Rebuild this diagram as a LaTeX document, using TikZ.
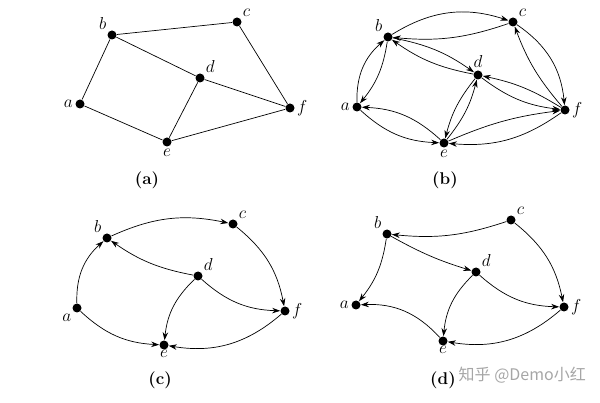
\documentclass[tikz,border=0pt]{standalone}
\usepackage{fontspec}
\newfontfamily\cjk{Noto Sans CJK SC}
\usetikzlibrary{arrows.meta}
\begin{document}
\begin{tikzpicture}[x=1pt,y=1pt,
  vtx/.style={circle,fill=black,inner sep=0pt,minimum size=9pt},
  lab/.style={font=\itshape\fontsize{17}{17}\selectfont,inner sep=2pt},
  captxt/.style={font=\bfseries\fontsize{17}{17}\selectfont},
  ar/.style={-{Stealth[length=8pt,width=5.5pt]}},
  every path/.style={line width=0.7pt}]
\useasboundingbox (0,0) rectangle (600,402);
% (a)
\node[vtx,label={[lab]above left:$b$}] (ab) at (112,367) {};
\node[vtx,label={[lab]above right:$c$}] (ac) at (237,380) {};
\node[vtx,label={[lab]above right:$d$}] (ad) at (200,324) {};
\node[vtx,label={[lab]left:$a$}] (aa) at (80,298) {};
\node[vtx,label={[lab]below:$e$}] (ae) at (167,260) {};
\node[vtx,label={[lab]right:$f$}] (af) at (290,294) {};
\draw (ab)--(ac) (ac)--(af) (ab)--(aa) (ab)--(ad) (ad)--(af) (ad)--(ae) (aa)--(ae) (ae)--(af);
\node[captxt] (capa) at (147,222) {(a)};
% (b)
\node[vtx,label={[lab]above left:$b$}] (bb) at (388,365) {};
\node[vtx,label={[lab]above right:$c$}] (bc) at (513,380) {};
\node[vtx,label={[lab]above:$d$}] (bd) at (478,327) {};
\node[vtx,label={[lab]left:$a$}] (ba) at (357,295) {};
\node[vtx,label={[lab]below:$e$}] (be) at (444,259) {};
\node[vtx,label={[lab]right:$f$}] (bf) at (565,292) {};
\draw[ar] (bb) to[bend left=25] (bc);
\draw[ar] (bc) to[bend left=12] (bb);
\draw[ar] (bb) to[bend left=12] (bd);
\draw[ar] (bd) to[bend left=12] (bb);
\draw[ar] (bb) to[bend left=15] (ba);
\draw[ar] (ba) to[bend left=25] (bb);
\draw[ar] (ba) to[bend right=20] (be);
\draw[ar] (be) to[bend right=20] (ba);
\draw[ar] (bd) to[bend right=12] (be);
\draw[ar] (be) to[bend right=12] (bd);
\draw[ar] (bd) to[bend right=15] (bf);
\draw[ar] (bf) to[bend right=10] (bd);
\draw[ar] (be) to[bend left=8] (bf);
\draw[ar] (bf) to[bend left=20] (be);
\draw[ar] (bc) to[bend left=25] (bf);
\draw[ar] (bf) to[bend left=10] (bc);
\node[captxt] (capb) at (445,222) {(b)};
% (c)
\node[vtx,label={[lab]above left:$b$}] (cb) at (107,164) {};
\node[vtx,label={[lab]above right:$c$}] (cc) at (233,178) {};
\node[vtx,label={[lab]above right:$d$}] (cd) at (198,126) {};
\node[vtx,label={[lab]below left:$a$}] (ca) at (77,94) {};
\node[vtx,label={[lab,inner sep=0pt]below:$e$}] (ce) at (164,57) {};
\node[vtx,label={[lab]right:$f$}] (cf) at (285,91) {};
\draw[ar] (ca) to[bend left=25] (cb);
\draw[ar] (cb) to[bend left=18] (cc);
\draw[ar] (cc) to[bend left=20] (cf);
\draw[ar] (cf) to[bend left=25] (ce);
\draw[ar] (ca) to[bend right=20] (ce);
\draw[ar] (cd) to[bend left=12] (cb);
\draw[ar] (cd) to[bend right=20] (ce);
\draw[ar] (cd) to[bend right=20] (cf);
\node[captxt] (capc) at (160,22) {(c)};
% (d)
\node[vtx,label={[lab]above left:$b$}] (db) at (387,168) {};
\node[vtx,label={[lab]above right:$c$}] (dc) at (511,182) {};
\node[vtx,label={[lab]above right:$d$}] (dd) at (476,130) {};
\node[vtx,label={[lab]left:$a$}] (da) at (356,97) {};
\node[vtx,label={[lab,inner sep=0pt]below:$e$}] (de) at (443,61) {};
\node[vtx,label={[lab]right:$f$}] (df) at (564,95) {};
\draw[ar] (dc) to[bend left=12] (db);
\draw[ar] (db) to[bend right=6] (dd);
\draw[ar] (db) to[bend left=15] (da);
\draw[ar] (dd) to[bend right=20] (de);
\draw[ar] (dd) to[bend right=20] (df);
\draw[ar] (dc) to[bend left=20] (df);
\draw[ar] (df) to[bend left=25] (de);
\draw[ar] (de) to[bend right=25] (da);
\node[captxt] (capd) at (443,22) {(d)};
\node[text=black!35,font=\cjk\fontsize{16}{16}\selectfont,anchor=west] (wm) at (455,27) {知乎 @Demo小红};
\end{tikzpicture}
\end{document}
